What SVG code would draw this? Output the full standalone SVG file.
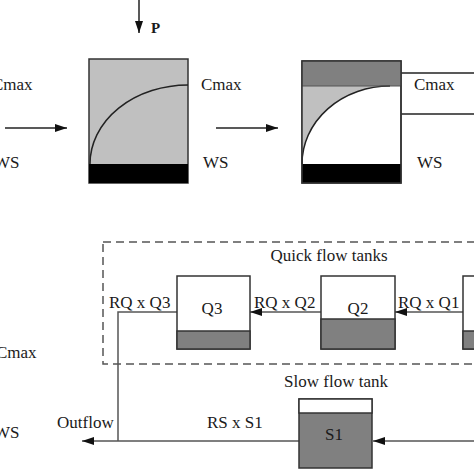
<svg xmlns="http://www.w3.org/2000/svg" width="474" height="474" viewBox="0 0 474 474">
<style>
text{font-family:"Liberation Serif","Times New Roman",serif;font-size:17px;fill:#1a1a1a}
.box{stroke:#333;stroke-width:1.5}
.ln{stroke:#555;stroke-width:1.5;fill:none}
.lnk{stroke:#222;stroke-width:1.5;fill:none}
.light{fill:#c0c0c0}
.dark{fill:#808080}
</style>
<defs>
<marker id="ah" viewBox="0 0 12 8" refX="12" refY="4" markerWidth="12" markerHeight="8" markerUnits="userSpaceOnUse" orient="auto">
<path d="M0,0 L12,4 L0,8 Z" fill="#111"/>
</marker>
</defs>
<rect width="474" height="474" fill="#fff"/>

<g id="connectors">
<line class="lnk" x1="139" y1="0" x2="139" y2="33" marker-end="url(#ah)"/>
<line class="lnk" x1="5" y1="128" x2="67" y2="128" marker-end="url(#ah)"/>
<line class="lnk" x1="216" y1="128" x2="278" y2="128" marker-end="url(#ah)"/>
<line class="lnk" x1="401" y1="73" x2="474" y2="73"/>
<line class="lnk" x1="315" y1="114" x2="474" y2="114"/>
<line class="ln" x1="463" y1="312" x2="395" y2="312" marker-end="url(#ah)"/>
<line class="ln" x1="321" y1="312" x2="250" y2="312" marker-end="url(#ah)"/>
<polyline class="ln" points="177,312 118,312 118,441"/>
<line class="ln" x1="299" y1="441" x2="82" y2="441" marker-end="url(#ah)"/>
<line class="ln" x1="474" y1="441" x2="373" y2="441" marker-end="url(#ah)"/>
</g>

<g id="labels-top">
<text x="151" y="33" font-weight="bold" style="font-size:15px">P</text>
<text x="-8" y="90">Cmax</text>
<text x="-6" y="168">WS</text>
<text x="201" y="90">Cmax</text>
<text x="203" y="168">WS</text>
<text x="414" y="90">Cmax</text>
<text x="417" y="168">WS</text>
</g>

<g id="tank1">
<rect class="box light" x="89" y="59" width="99" height="124"/>
<rect x="89" y="164" width="99" height="19" fill="#000"/>
<path class="lnk" d="M90,164 A98,79 0 0 1 188,85"/>
</g>

<g id="tank2">
<rect class="box" x="302" y="61" width="99" height="122" fill="#fff"/>
<path class="light" d="M302,164 A88,78 0 0 1 390,86 L302,86 Z"/>
<rect class="dark" x="302" y="61" width="99" height="25"/>
<rect x="302" y="164" width="99" height="19" fill="#000"/>
<path class="lnk" d="M302,164 A88,78 0 0 1 390,86"/>
<line x1="302" y1="86" x2="401" y2="86" stroke="#555" stroke-width="1"/>
<rect x="302" y="61" width="99" height="122" fill="none" stroke="#333" stroke-width="1.5"/>
</g>

<g id="quick-flow-group">
<rect x="103" y="242" width="390" height="122" fill="none" stroke="#555" stroke-width="1.5" stroke-dasharray="8,5"/>
<text x="329" y="261" text-anchor="middle">Quick flow tanks</text>
</g>

<g id="Q3">
<rect class="box" x="177" y="276" width="73" height="73" fill="#fff"/>
<rect class="box dark" x="177" y="331" width="73" height="18"/>
<text x="212" y="314" text-anchor="middle">Q3</text>
</g>
<g id="Q2">
<rect class="box" x="321" y="276" width="74" height="73" fill="#fff"/>
<rect class="box dark" x="321" y="319" width="74" height="30"/>
<text x="358" y="314" text-anchor="middle">Q2</text>
</g>
<g id="Q1">
<rect class="box" x="463" y="276" width="30" height="73" fill="#fff"/>
<rect class="box dark" x="463" y="331" width="30" height="18"/>
</g>
<g id="S1">
<text x="336" y="387" text-anchor="middle">Slow flow tank</text>
<rect class="box dark" x="299" y="399" width="73" height="69"/>
<rect class="box" x="299" y="399" width="73" height="14" fill="#fff"/>
<text x="334" y="440" text-anchor="middle">S1</text>
</g>

<g id="labels-bottom">
<text x="109" y="308">RQ x Q3</text>
<text x="254" y="308">RQ x Q2</text>
<text x="398" y="308">RQ x Q1</text>
<text x="57" y="428">Outflow</text>
<text x="207" y="428">RS x S1</text>
<text x="-4" y="358">Cmax</text>
<text x="-6" y="438">WS</text>
</g>
</svg>
